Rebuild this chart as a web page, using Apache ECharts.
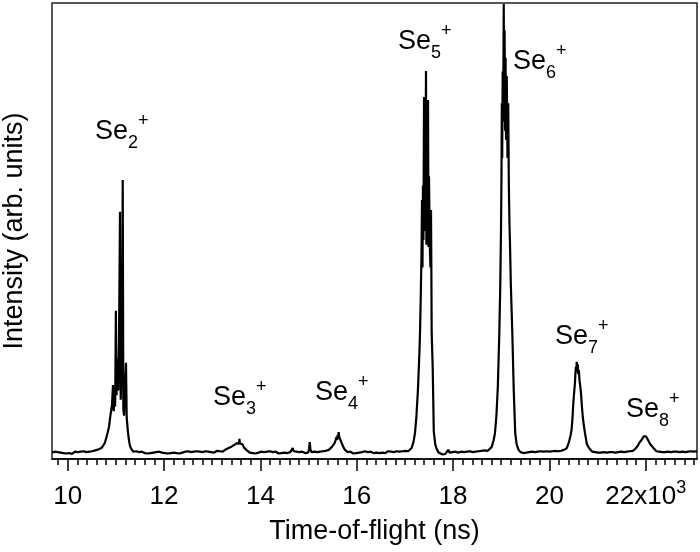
<!DOCTYPE html>
<html><head><meta charset="utf-8">
<script src="https://cdn.jsdelivr.net/npm/echarts@6/dist/echarts.min.js"></script>
<style>html,body{margin:0;padding:0;background:#fff}#c{width:700px;height:552px}</style>
</head><body><div id="c"></div><script>
// ---- data: time-of-flight (x10^3 ns), intensity (arb. units) ----
const baseA = [[9.674,1.4],[9.70,1.2],[9.73,1.6],[9.76,1.3],[9.79,1.5],[9.82,1.1],[9.85,1.4],[9.88,1.7],[9.91,1.3],[9.94,1.5],[9.97,1.2],[10.00,1.6],[10.03,1.3],[10.06,1.5],[10.09,1.1],[10.12,1.4],[10.15,1.6],[10.18,1.3],[10.21,1.5],[10.24,1.2],[10.27,1.6],[10.30,1.4],[10.33,1.7],[10.36,1.3],[10.39,1.5],[10.42,1.2],[10.45,1.6],[10.48,1.4],[10.51,1.7],[10.54,1.5],[10.57,1.9],[10.60,1.7],[10.63,2.1],[10.67,1.9]];
const peakSe2 = [[10.70,2.4],[10.73,2.6],[10.77,3.5],[10.80,4.6],[10.83,5.8],[10.86,7.2],[10.88,9.0],[10.90,10.5],[10.92,12.0],[10.94,16.2],[10.955,10.5],[10.97,15.0],[10.985,11.5],[11.00,32.5],[11.015,14.0],[11.03,22.0],[11.05,15.0],[11.065,26.0],[11.086,54.2],[11.10,13.0],[11.115,18.0],[11.13,25.0],[11.142,61.2],[11.155,11.0],[11.17,9.5],[11.185,14.0],[11.21,21.1],[11.225,9.0],[11.25,6.0],[11.27,4.2],[11.29,3.0],[11.31,2.4],[11.335,2.0],[11.36,1.6]];
const baseB = [[11.39,1.4],[11.42,1.7],[11.45,1.3],[11.48,1.5],[11.51,1.2],[11.54,1.6],[11.57,1.4],[11.60,1.3],[11.63,1.6],[11.66,1.2],[11.69,1.5],[11.72,1.3],[11.75,1.7],[11.78,1.4],[11.81,1.2],[11.84,1.5],[11.87,1.3],[11.90,1.6],[11.93,1.2],[11.96,1.4],[11.99,1.7],[12.02,1.3],[12.05,1.5],[12.08,1.2],[12.11,1.6],[12.14,1.3],[12.17,1.5],[12.20,1.4],[12.23,1.7],[12.26,1.3],[12.29,1.5],[12.32,1.2],[12.35,1.6],[12.38,1.4],[12.41,1.3],[12.44,1.6],[12.47,1.4],[12.50,1.7],[12.53,1.3],[12.56,1.5],[12.59,1.2],[12.62,1.6],[12.65,1.4],[12.68,1.7],[12.71,1.3],[12.74,1.6],[12.77,1.4],[12.80,1.5],[12.83,1.3],[12.86,1.7],[12.89,1.4],[12.92,1.6],[12.95,1.3],[12.98,1.5],[13.01,1.7],[13.04,1.4],[13.07,1.6],[13.10,1.8],[13.13,1.5],[13.16,1.7],[13.19,1.9],[13.22,1.6],[13.25,1.9],[13.28,2.1]];
const peakSe3 = [[13.31,2.0],[13.34,2.4],[13.37,2.2],[13.40,2.7],[13.43,2.5],[13.46,3.1],[13.49,2.9],[13.51,3.5],[13.53,3.2],[13.545,3.9],[13.555,3.3],[13.565,4.4],[13.575,3.4],[13.59,3.8],[13.61,3.0],[13.63,3.2],[13.66,2.5],[13.69,2.3],[13.72,1.9],[13.75,1.7]];
const baseC = [[13.78,1.4],[13.81,1.6],[13.84,1.3],[13.87,1.5],[13.90,1.2],[13.93,1.6],[13.96,1.4],[13.99,1.3],[14.02,1.6],[14.05,1.3],[14.08,1.5],[14.11,1.2],[14.14,1.6],[14.17,1.4],[14.20,1.7],[14.23,1.3],[14.26,1.5],[14.29,1.3],[14.32,1.6],[14.35,1.4],[14.38,1.2],[14.41,1.5],[14.44,1.3],[14.47,1.6],[14.50,1.4],[14.53,1.5],[14.56,1.3],[14.59,1.7],[14.62,1.5],[14.65,1.9],[14.67,2.4],[14.69,1.7],[14.72,1.4],[14.75,1.6],[14.78,1.3],[14.81,1.5],[14.84,1.2],[14.87,1.6],[14.90,1.4],[14.93,1.3],[14.96,1.5],[14.99,1.4],[15.01,2.2],[15.025,3.7],[15.04,2.0],[15.06,1.5],[15.09,1.3],[15.12,1.6],[15.15,1.4],[15.18,1.5],[15.21,1.3],[15.24,1.6],[15.27,1.4],[15.30,1.7],[15.33,1.5],[15.36,1.8],[15.39,1.7]];
const peakSe4 = [[15.42,2.0],[15.45,2.3],[15.48,2.6],[15.51,3.0],[15.54,3.5],[15.56,4.1],[15.58,4.8],[15.595,4.2],[15.605,5.3],[15.615,4.6],[15.625,5.9],[15.64,4.7],[15.655,5.0],[15.67,4.0],[15.69,3.4],[15.72,2.7],[15.75,2.1],[15.78,1.8],[15.81,1.5]];
const baseD = [[15.84,1.3],[15.87,1.6],[15.90,1.4],[15.93,1.2],[15.96,1.5],[15.99,1.3],[16.02,1.6],[16.05,1.4],[16.08,1.2],[16.11,1.5],[16.14,1.3],[16.17,1.7],[16.20,1.4],[16.23,1.5],[16.26,1.2],[16.29,1.6],[16.32,1.4],[16.35,1.3],[16.38,1.6],[16.41,1.4],[16.44,1.7],[16.47,1.3],[16.50,1.5],[16.53,1.4],[16.56,1.6],[16.59,1.3],[16.62,1.5],[16.65,1.7],[16.68,1.4],[16.71,1.6],[16.74,1.3],[16.77,1.5],[16.80,1.4],[16.83,1.7],[16.86,1.5],[16.89,1.6],[16.92,1.4],[16.95,1.7],[16.98,1.5],[17.01,1.8],[17.04,1.6]];
const peakSe5 = [[17.07,1.7],[17.10,1.9],[17.14,2.4],[17.18,3.8],[17.21,5.7],[17.24,9.5],[17.27,15.0],[17.30,23.0],[17.314,27.6],[17.33,36.0],[17.345,45.0],[17.355,56.8],[17.365,42.0],[17.375,60.0],[17.385,48.0],[17.397,79.4],[17.405,50.0],[17.415,70.0],[17.425,52.0],[17.438,85.1],[17.447,47.0],[17.456,68.0],[17.466,50.0],[17.48,78.7],[17.49,46.5],[17.50,62.0],[17.515,48.0],[17.53,42.0],[17.542,54.6],[17.55,40.0],[17.556,27.6],[17.577,20.2],[17.59,12.0],[17.60,6.0],[17.63,3.2],[17.66,2.2],[17.70,1.4],[17.74,1.2]];
const baseE = [[17.78,1.0],[17.81,1.3],[17.84,1.1],[17.87,1.5],[17.90,2.0],[17.93,1.4],[17.96,1.2],[17.99,1.5],[18.02,1.3],[18.05,1.6],[18.08,1.2],[18.11,1.4],[18.14,1.3],[18.17,1.6],[18.20,1.4],[18.23,1.5],[18.26,1.3],[18.29,1.6],[18.32,1.4],[18.35,1.7],[18.38,1.4],[18.41,1.5],[18.44,1.3],[18.47,1.6],[18.50,1.5],[18.53,1.7],[18.56,1.5],[18.59,1.8],[18.62,1.6],[18.65,1.9],[18.68,1.7]];
const peakSe6 = [[18.72,1.8],[18.76,2.0],[18.80,2.6],[18.84,4.0],[18.87,5.7],[18.90,9.5],[18.93,16.0],[18.96,27.6],[18.98,38.0],[18.995,50.0],[19.005,62.0],[19.012,78.0],[19.02,66.0],[19.03,85.0],[19.04,74.0],[19.052,99.8],[19.06,80.0],[19.07,94.0],[19.08,72.0],[19.09,88.0],[19.10,70.0],[19.115,84.0],[19.13,66.0],[19.145,78.0],[19.158,60.0],[19.17,52.0],[19.18,48.0],[19.20,38.0],[19.23,27.6],[19.26,15.0],[19.29,5.7],[19.32,3.2],[19.36,2.0],[19.40,1.5]];
const baseF = [[19.43,1.1],[19.46,1.3],[19.49,1.0],[19.52,1.4],[19.55,1.2],[19.58,1.5],[19.61,1.3],[19.64,1.6],[19.67,1.4],[19.70,1.5],[19.73,1.3],[19.76,1.6],[19.79,1.4],[19.82,1.7],[19.85,1.5],[19.88,1.6],[19.91,1.4],[19.94,1.7],[19.97,1.5],[20.00,1.6],[20.03,1.4],[20.06,1.7],[20.09,1.5],[20.12,1.8],[20.15,1.6],[20.18,1.7],[20.21,1.5],[20.24,1.8],[20.27,1.7],[20.30,2.0],[20.33,2.1]];
const peakSe7 = [[20.354,2.3],[20.38,2.9],[20.41,3.9],[20.44,5.2],[20.46,6.4],[20.48,9.0],[20.496,12.2],[20.51,14.2],[20.53,16.6],[20.54,18.8],[20.55,20.2],[20.558,19.0],[20.567,21.3],[20.577,19.4],[20.587,20.8],[20.60,18.6],[20.612,19.5],[20.625,17.2],[20.64,16.0],[20.655,14.5],[20.67,12.2],[20.685,10.2],[20.70,8.6],[20.72,7.0],[20.74,5.6],[20.76,4.4],[20.775,3.4],[20.80,2.8],[20.83,2.3],[20.86,1.9]];
const baseG = [[20.89,1.6],[20.92,1.8],[20.95,1.5],[20.98,1.7],[21.01,1.4],[21.04,1.6],[21.07,1.4],[21.10,1.7],[21.13,1.5],[21.16,1.6],[21.19,1.4],[21.22,1.7],[21.25,1.5],[21.28,1.8],[21.31,1.5],[21.34,1.6],[21.37,1.4],[21.40,1.7],[21.43,1.5],[21.46,1.8],[21.49,1.6],[21.52,1.7],[21.55,1.5],[21.58,1.8],[21.61,1.6],[21.64,1.9],[21.67,1.7],[21.70,2.0],[21.73,1.8],[21.76,2.1],[21.79,2.3]];
const peakSe8 = [[21.81,2.7],[21.84,3.0],[21.87,3.6],[21.90,3.9],[21.92,4.3],[21.94,4.6],[21.96,5.0],[21.975,4.7],[21.99,5.4],[22.01,4.9],[22.03,4.8],[22.05,4.1],[22.07,3.8],[22.09,3.3],[22.12,2.9],[22.16,2.4],[22.19,2.0]];
const baseH = [[22.22,1.7],[22.25,1.9],[22.28,1.6],[22.31,1.8],[22.34,1.5],[22.37,1.7],[22.40,1.5],[22.43,1.8],[22.46,1.6],[22.49,1.7],[22.52,1.5],[22.55,1.8],[22.58,1.6],[22.61,1.9],[22.64,1.6],[22.67,1.7],[22.70,1.5],[22.73,1.8],[22.76,1.6],[22.79,1.7],[22.82,1.5],[22.85,1.8],[22.88,1.6],[22.91,1.9],[22.94,1.7],[22.97,1.8],[23.00,1.6],[23.03,1.8],[23.064,1.7]];

const majorTicks = [10, 12, 14, 16, 18, 20, 22];
const tickLabels = ['10', '12', '14', '16', '18', '20', '22x10'];
const ionSizes = ['2', '3', '4', '5', '6', '7', '8'];

// ---- layout ----
const FONT = 'Liberation Sans, Arial, Helvetica, sans-serif';
const X_MIN = 9.674, X_MAX = 23.064;
const minorTicks = [];
for (let i = 49; i <= 115; i++) minorTicks.push(+(i * 0.2).toFixed(1));
const ionLabelPos = [[95,132],[213,398],[315,393],[398,42],[513,62],[555,337],[626,410]];

const spectrum = [].concat(baseA, peakSe2, baseB, peakSe3, baseC, peakSe4, baseD,
  peakSe5, baseE, peakSe6, baseF, peakSe7, baseG, peakSe8, baseH);

const chart = echarts.init(document.getElementById('c'), null, {renderer: 'canvas'});
chart.setOption({
  animation: false,
  backgroundColor: '#fff',
  grid: {left: 52, right: 3, top: 3, bottom: 93, show: true, borderColor: '#222', borderWidth: 1.5,
         containLabel: false, outerBoundsMode: 'none'},
  xAxis: [{
    type: 'value', min: X_MIN, max: X_MAX, position: 'bottom',
    name: 'Time-of-flight (ns)', nameLocation: 'middle', nameGap: 59,
    nameTextStyle: {fontFamily: FONT, fontSize: 27, color: '#000'},
    axisLine: {show: true, onZero: false, lineStyle: {color: '#000', width: 1.5}},
    axisTick: {show: true, inside: false, length: 12, customValues: majorTicks, lineStyle: {color: '#000', width: 1.5}},
    axisLabel: {
      show: true, margin: 20, customValues: majorTicks, color: '#000', fontFamily: FONT,
      formatter: function (v) {
        const i = majorTicks.indexOf(v);
        const t = i >= 0 ? tickLabels[i] : String(v);
        return i === majorTicks.length - 1 ? '{a|' + t + '}{s|3}' : '{a|' + t + '}';
      },
      rich: {
        a: {fontFamily: FONT, fontSize: 26, lineHeight: 36, color: '#000'},
        s: {fontFamily: FONT, fontSize: 18, color: '#000', padding: [0, 0, 18, 0]}
      }
    },
    splitLine: {show: false}
  }, {
    type: 'value', min: X_MIN, max: X_MAX, position: 'bottom', gridIndex: 0,
    axisLine: {show: false},
    axisTick: {show: true, inside: false, length: 6, customValues: minorTicks, lineStyle: {color: '#000', width: 1.5}},
    axisLabel: {show: false},
    splitLine: {show: false}
  }],
  yAxis: {
    type: 'value', min: 0, max: 100,
    name: 'Intensity (arb. units)', nameLocation: 'middle', nameGap: 24, nameRotate: 90,
    nameTextStyle: {fontFamily: FONT, fontSize: 27, color: '#000'},
    axisLine: {show: false}, axisTick: {show: false}, axisLabel: {show: false}, splitLine: {show: false}
  },
  graphic: ionSizes.map(function (n, i) {
    return {
      type: 'text', x: ionLabelPos[i][0], y: ionLabelPos[i][1] - 20, silent: true,
      style: {
        text: '{b|Se}{d|' + n + '}{u|+}', align: 'left', verticalAlign: 'top',
        rich: {
          b: {fontFamily: FONT, fontSize: 27, lineHeight: 40, fill: '#000'},
          d: {fontFamily: FONT, fontSize: 18, fill: '#000', padding: [22, 0, 0, 0]},
          u: {fontFamily: FONT, fontSize: 18, fill: '#000', padding: [0, 0, 22, 0]}
        }
      }
    };
  }),
  series: [{
    type: 'line', xAxisIndex: 0, data: spectrum, showSymbol: false, symbol: 'none',
    lineStyle: {color: '#000', width: 2.2}, clip: true
  }]
});
</script></body></html>
